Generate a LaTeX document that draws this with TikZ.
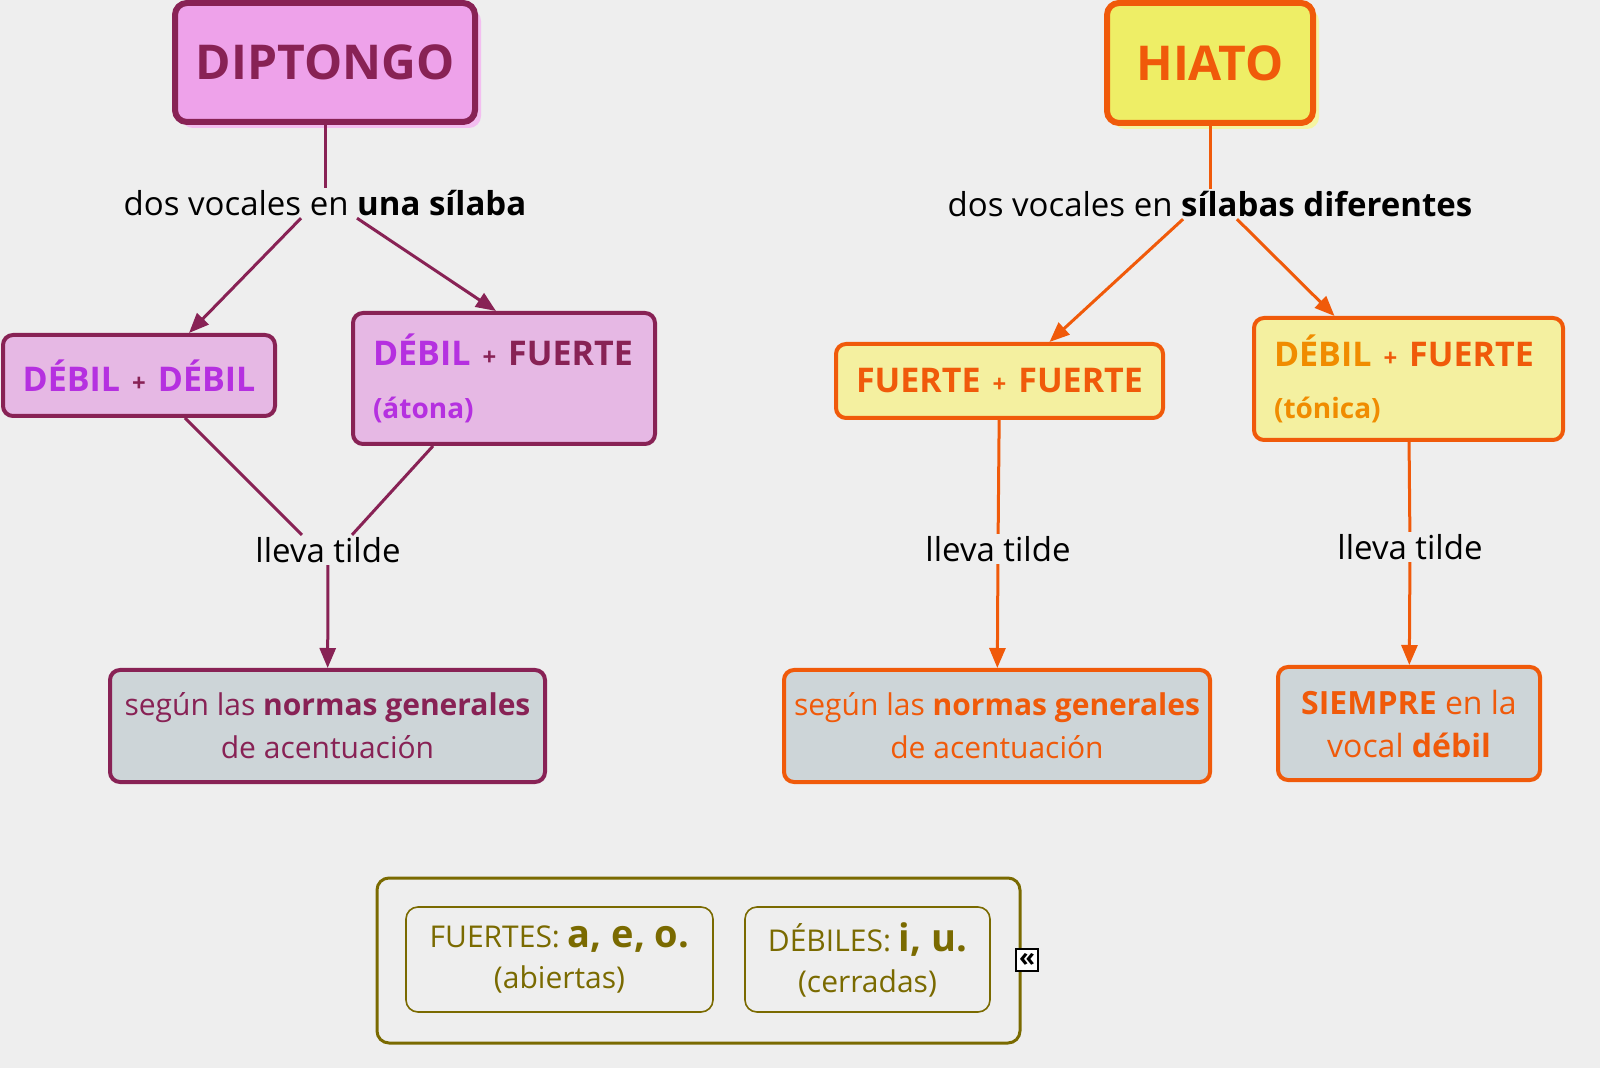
\documentclass[tikz,border=0pt]{standalone}
\usepackage{fontspec}
\setmainfont{Open Sans}
\usetikzlibrary{arrows.meta,positioning,calc,shadows}
\definecolor{fondo}{HTML}{EEEEEE}
\definecolor{granate}{HTML}{882255}
\definecolor{morado}{HTML}{B530E0}
\definecolor{rosa}{HTML}{EEA2EA}
\definecolor{rosaclaro}{HTML}{E6B8E4}
\definecolor{gris}{HTML}{CDD5D8}
\definecolor{naranja}{HTML}{F05A0A}
\definecolor{naranjaclaro}{HTML}{F08C00}
\definecolor{amarillo}{HTML}{EEEE66}
\definecolor{amarilloclaro}{HTML}{F4F0A0}
\definecolor{oliva}{HTML}{7A6A00}
\newcommand{\tamano}[1]{\fontsize{#1}{1.25\dimexpr #1pt\relax}\selectfont}
\newcommand{\tamanol}[2]{\fontsize{#1}{#2}\selectfont}

\begin{document}
\begin{tikzpicture}[x=0.5pt, y=-0.5pt, >={Triangle[length=10pt, width=8pt]},
    titulo/.style={draw, line width=3pt, rounded corners=6pt, font=\bfseries\tamano{24}},
    caja/.style={draw, line width=2pt, rounded corners=5pt},
    enlace/.style={font=\tamano{16.5}, text=black, inner sep=1pt},
    conector/.style={line width=1.5pt}]
        % Background
        \fill[fondo] (0,0) rectangle (1600,1068);
        \useasboundingbox (0,0) rectangle (1600,1068);

        % Diptongo
        \node[titulo, draw=granate, fill=rosa, text=granate, minimum width=150pt, minimum height=59.5pt,
            drop shadow={shadow xshift=3pt, shadow yshift=-3pt, fill=rosa!70, opacity=1}] (dipt) at (325,62.5) {DIPTONGO};
        \node[enlace] (dosU) at (325,203) {dos vocales en \textbf{una sílaba}};
        \node[caja, draw=granate, fill=rosaclaro, minimum width=136pt, minimum height=40.5pt,
            font=\bfseries\tamano{17}] (dd) at (139,375.5)
            {\textcolor{morado}{DÉBIL}\hspace{6pt}\textcolor{granate}{\tamano{12}+}\hspace{6pt}\textcolor{morado}{DÉBIL}};
        \node[caja, draw=granate, fill=rosaclaro, text width=131pt, inner xsep=10pt, minimum height=65.5pt,
            align=left, font=\bfseries\tamano{17}] (df) at (504,378.5)
            {\textcolor{morado}{DÉBIL}\hspace{6pt}\textcolor{granate}{{\tamano{12}+}\hspace{6pt}FUERTE}\\[5pt]
             \textcolor{morado}{\tamano{14}(átona)}};
        \node[enlace] (lltD) at (328,550) {lleva tilde};
        \node[caja, draw=granate, fill=gris, text=granate, minimum width=217.5pt, minimum height=56pt,
            align=center, font=\tamanol{15}{21.5pt}] (normD) at (327.5,726)
            {según las \textbf{normas generales}\\de acentuación};

        \draw[conector, granate] (dipt) -- (dosU);
        \draw[conector, granate, ->] ([xshift=-12pt]dosU.south) -- ([xshift=25pt]dd.north);
        \draw[conector, granate, ->] ([xshift=16pt]dosU.south) -- ([xshift=-4pt]df.north);
        \draw[conector, granate] ([xshift=23pt]dd.south) -- ([xshift=-13pt]lltD.north);
        \draw[conector, granate] ([xshift=-35.5pt]df.south) -- ([xshift=12pt]lltD.north);
        \draw[conector, granate, ->] (lltD) -- (normD);

        % Hiato
        \node[titulo, draw=naranja, fill=amarillo, text=naranja, minimum width=103pt, minimum height=60pt,
            drop shadow={shadow xshift=3pt, shadow yshift=-3pt, fill=amarillo!60, opacity=1}] (hiato) at (1210,63) {HIATO};
        \node[enlace] (dosH) at (1210,204) {dos vocales en \textbf{sílabas diferentes}};
        \node[caja, draw=naranja, fill=amarilloclaro, text=naranja, minimum width=163.5pt, minimum height=37pt,
            font=\bfseries\tamano{17}] (ff) at (999.5,381)
            {FUERTE\hspace{6pt}{\tamano{12}+}\hspace{6pt}FUERTE};
        \node[caja, draw=naranja, fill=amarilloclaro, text width=134.5pt, inner xsep=10pt, minimum height=61pt,
            align=left, font=\bfseries\tamano{17}] (dfH) at (1408.5,379)
            {\textcolor{naranjaclaro}{DÉBIL}\hspace{6pt}\textcolor{naranja}{{\tamano{12}+}\hspace{6pt}FUERTE}\\[5pt]
             \textcolor{naranjaclaro}{\tamano{14}(tónica)}};
        \node[enlace] (lltH) at (998,549) {lleva tilde};
        \node[enlace] (lltS) at (1410,547) {lleva tilde};
        \node[caja, draw=naranja, fill=gris, text=naranja, minimum width=213pt, minimum height=56pt,
            align=center, font=\tamanol{15}{21.5pt}] (normH) at (997,726)
            {según las \textbf{normas generales}\\de acentuación};
        \node[caja, draw=naranja, fill=gris, text=naranja, minimum width=131pt, minimum height=56.5pt,
            align=center, font=\tamanol{16}{21.5pt}] (siempre) at (1409,723.5)
            {\textbf{SIEMPRE} en la\\vocal \textbf{débil}};

        \draw[conector, naranja] (hiato) -- (dosH);
        \draw[conector, naranja, ->] ([xshift=-13.5pt]dosH.south) -- ([xshift=25pt]ff.north);
        \draw[conector, naranja, ->] ([xshift=13.5pt]dosH.south) -- ([xshift=-37pt]dfH.north);
        \draw[conector, naranja] (ff) -- (lltH);
        \draw[conector, naranja, ->] (lltH) -- (normH);
        \draw[conector, naranja] (dfH) -- (lltS);
        \draw[conector, naranja, ->] (lltS) -- (siempre);

        % Leyenda
        \node[draw=oliva, line width=1.5pt, rounded corners=6pt, minimum width=321.5pt, minimum height=82.5pt] (leyenda) at (698.5,960.5) {};
        \node[draw=oliva, line width=0.8pt, rounded corners=6pt, minimum width=153.5pt, minimum height=52.5pt,
            text=oliva, align=center, font=\tamanol{15}{20.5pt}] (fuertes) at (559.5,959.5)
            {FUERTES: \textbf{\tamano{19}a, e, o.}\\(abiertas)};
        \node[draw=oliva, line width=0.8pt, rounded corners=6pt, minimum width=122.5pt, minimum height=52.5pt,
            text=oliva, align=center, font=\tamanol{15}{20.5pt}] (debiles) at (867.5,959.5)
            {DÉBILES: \textbf{\tamano{19}i, u.}\\(cerradas)};
        \node[draw=black, line width=0.8pt, fill=white, inner sep=0pt, minimum size=11pt, font=\bfseries\tamano{13}] (icono) at (1027,960) {«};
\end{tikzpicture}
\end{document}
